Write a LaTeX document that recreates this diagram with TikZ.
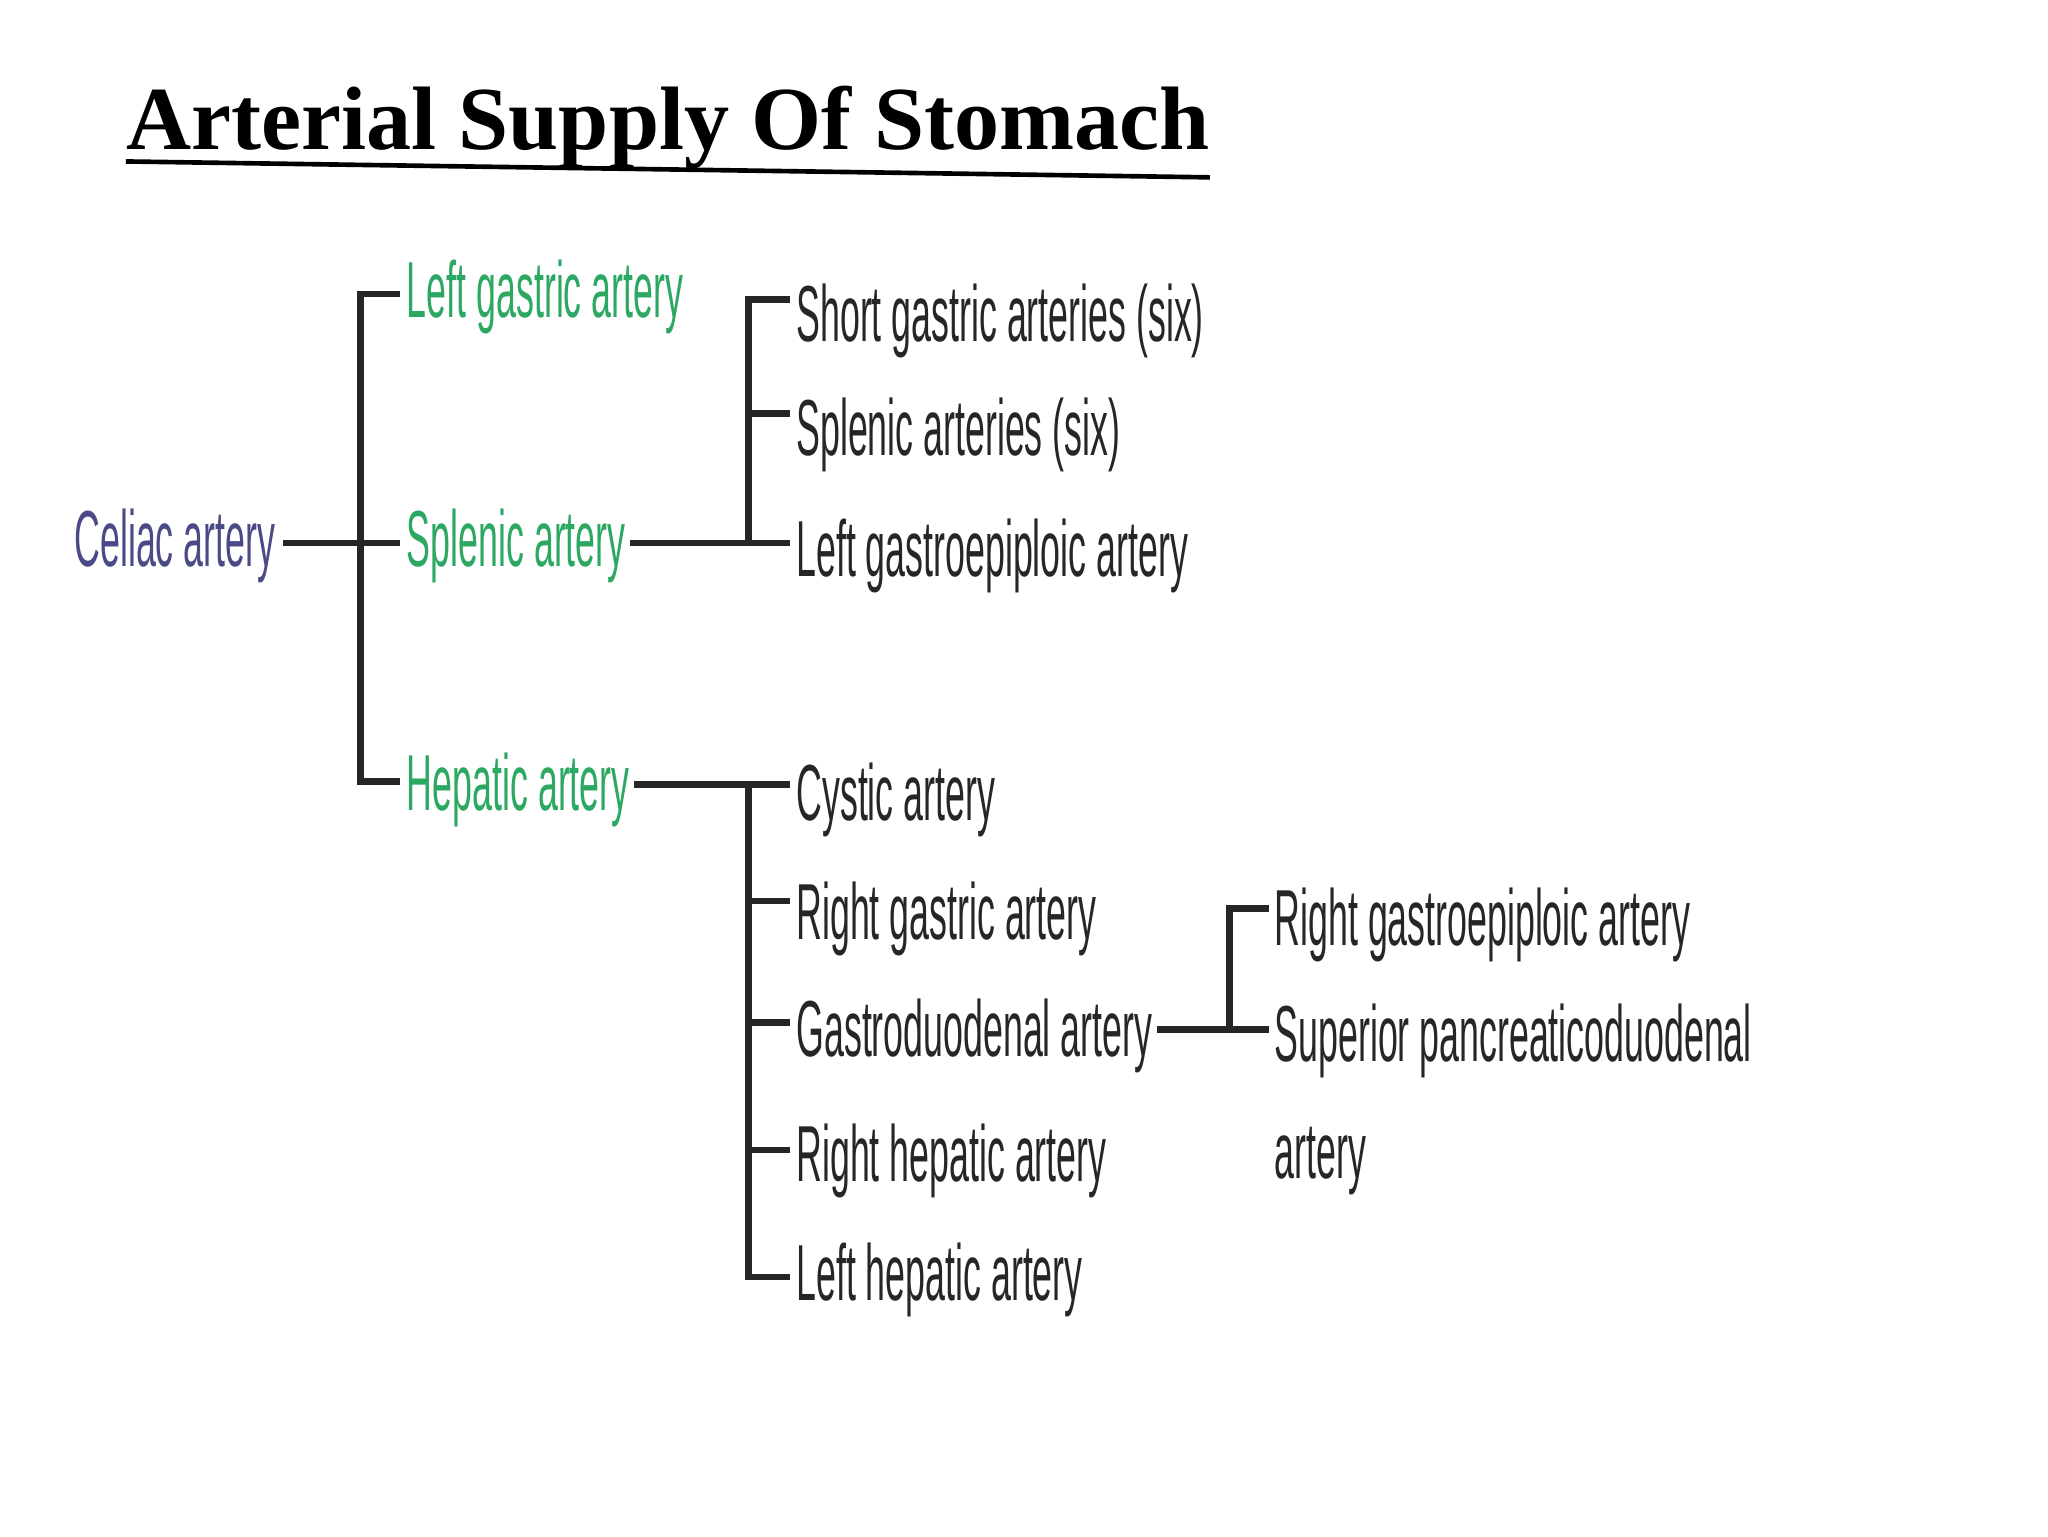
\documentclass[tikz,border=0pt]{standalone}
\usepackage{fontspec}
\setmainfont{Liberation Serif}
\newfontfamily\cond[FakeStretch=0.45]{Liberation Sans}
\definecolor{cblue}{HTML}{4A4A86}
\definecolor{cgreen}{HTML}{2DA863}
\definecolor{cblack}{HTML}{262626}
\begin{document}
\begin{tikzpicture}[x=1pt,y=-1pt,
  lbl/.style={anchor=west,inner sep=0pt,font=\cond\fontsize{60}{66}\selectfont,text=cblack},
  grn/.style={lbl,text=cgreen},
  ln/.style={draw=cblack,line width=5pt}]
\useasboundingbox (0,0) rectangle (1546,1159.5);
\node[anchor=base west,inner sep=0pt,font=\bfseries\fontsize{68}{76}\selectfont] (title) at (95,113) {Arterial Supply Of Stomach};
\draw[line width=3.5pt] (title.south west)++(0,-6) -- ([yshift=-6pt]title.south east);
\node[lbl,text=cblue] (celiac) at (56,412) {Celiac artery};
\node[grn] (lgastric) at (307,224) {Left gastric artery};
\node[grn] (splenic) at (307,412) {Splenic artery};
\node[grn] (hepatic) at (307,596) {Hepatic artery};
\node[lbl] (short) at (601,242) {Short gastric arteries (six)};
\node[lbl] (splarts) at (601,328) {Splenic arteries (six)};
\node[lbl] (lgep) at (601,420) {Left gastroepiploic artery};
\node[lbl] (cystic) at (601,604) {Cystic artery};
\node[lbl] (rgastric) at (601,694) {Right gastric artery};
\node[lbl] (gd) at (601,782) {Gastroduodenal artery};
\node[lbl] (rhep) at (601,876) {Right hepatic artery};
\node[lbl] (lhep) at (601,966) {Left hepatic artery};
\node[lbl] (rgep) at (962,698) {Right gastroepiploic artery};
\node[lbl,align=left,font=\cond\fontsize{60}{88}\selectfont] (spd) at (962,830) {Superior pancreaticoduodenal\\artery};
% celiac trunk
\coordinate (c1) at (272,222); \coordinate (c2) at (272,410); \coordinate (c3) at (272,590);
\draw[ln] ([xshift=6pt]celiac.east|-c2) -- (c2);
\draw[ln] (302,222) -- (c1) -- (c3) -- (302,590);
\draw[ln] (c2) -- (302,410);
% splenic
\coordinate (s1) at (565,226); \coordinate (s2) at (565,410);
\draw[ln] ([xshift=3pt]splenic.east|-s2) -- (596,410);
\draw[ln] (596,226) -- (s1) -- (s2);
\draw[ln] (565,312) -- (596,312);
% hepatic
\coordinate (h1) at (565,592); \coordinate (h5) at (565,964);
\draw[ln] ([xshift=3pt]hepatic.east|-h1) -- (596,592);
\draw[ln] (h1) -- (h5) -- (596,964);
\draw[ln] (565,680) -- (596,680);
\draw[ln] (565,772) -- (596,772);
\draw[ln] (565,868) -- (596,868);
% gastroduodenal
\coordinate (g1) at (928,686); \coordinate (g2) at (928,777);
\draw[ln] ([xshift=3pt]gd.east|-g2) -- (958,777);
\draw[ln] (958,686) -- (g1) -- (g2);
\end{tikzpicture}
\end{document}
